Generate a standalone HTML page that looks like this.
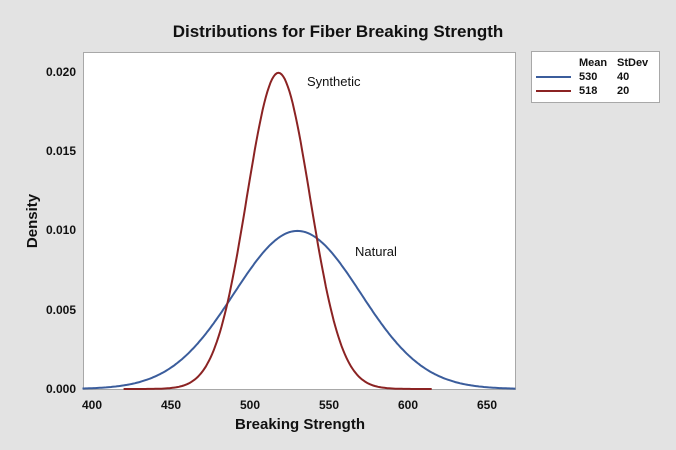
<!DOCTYPE html>
<html><head><meta charset="utf-8"><style>
body{margin:0;background:#e3e3e3;}
svg{display:block;font-family:"Liberation Sans",Arial,sans-serif;}
</style></head><body>
<svg id="s" width="676" height="450" viewBox="0 0 676 450">
<rect x="0" y="0" width="676" height="450" fill="#e3e3e3"/>
<rect x="83.5" y="52.5" width="432" height="337" fill="#fff" stroke="#a8a8a8"/>
<text x="338" y="37" text-anchor="middle" font-size="17" font-weight="bold" fill="#111">Distributions for Fiber Breaking Strength</text>
<g font-size="12" font-weight="bold" fill="#111" text-anchor="end">
<text x="76" y="76">0.020</text>
<text x="76" y="155">0.015</text>
<text x="76" y="234">0.010</text>
<text x="76" y="314">0.005</text>
<text x="76" y="393">0.000</text>
</g>
<g font-size="12" font-weight="bold" fill="#111" text-anchor="middle">
<text x="92" y="409">400</text>
<text x="171" y="409">450</text>
<text x="250" y="409">500</text>
<text x="329" y="409">550</text>
<text x="408" y="409">600</text>
<text x="487" y="409">650</text>
</g>
<text x="300" y="429" text-anchor="middle" font-size="15" font-weight="bold" fill="#111">Breaking Strength</text>
<text transform="translate(37,221) rotate(-90)" text-anchor="middle" font-size="15" font-weight="bold" fill="#111">Density</text>
<text x="307" y="86" font-size="13" fill="#111">Synthetic</text>
<text x="355" y="256" font-size="13" fill="#111">Natural</text>
<path id="blue" fill="none" stroke="#3b5d9c" stroke-width="2"/>
<path id="red" fill="none" stroke="#8b2323" stroke-width="2"/>
<rect x="531.5" y="51.5" width="128" height="51" fill="#fff" stroke="#a8a8a8"/>
<g font-size="11" font-weight="bold" fill="#111">
<text x="579" y="66">Mean</text><text x="617" y="66">StDev</text>
<text x="579" y="80">530</text><text x="617" y="80">40</text>
<text x="579" y="94">518</text><text x="617" y="94">20</text>
</g>
<line x1="536" y1="77" x2="571" y2="77" stroke="#3b5d9c" stroke-width="2"/>
<line x1="536" y1="91" x2="571" y2="91" stroke="#8b2323" stroke-width="2"/>
</svg>
<script>
function X(v){return 92+(v-400)*1.58;}
function Y(d){return 389-d*15850;}
function path(m,s,a,b){var p="";for(var v=a;v<=b+0.01;v+=1){var d=Math.exp(-0.5*Math.pow((v-m)/s,2))/(s*Math.sqrt(2*Math.PI));p+=(p?"L":"M")+X(v).toFixed(1)+","+Y(d).toFixed(1);}return p;}
document.getElementById("blue").setAttribute("d",path(530,40,394,668));
document.getElementById("red").setAttribute("d",path(518,20,420,615));
</script>
</body></html>
